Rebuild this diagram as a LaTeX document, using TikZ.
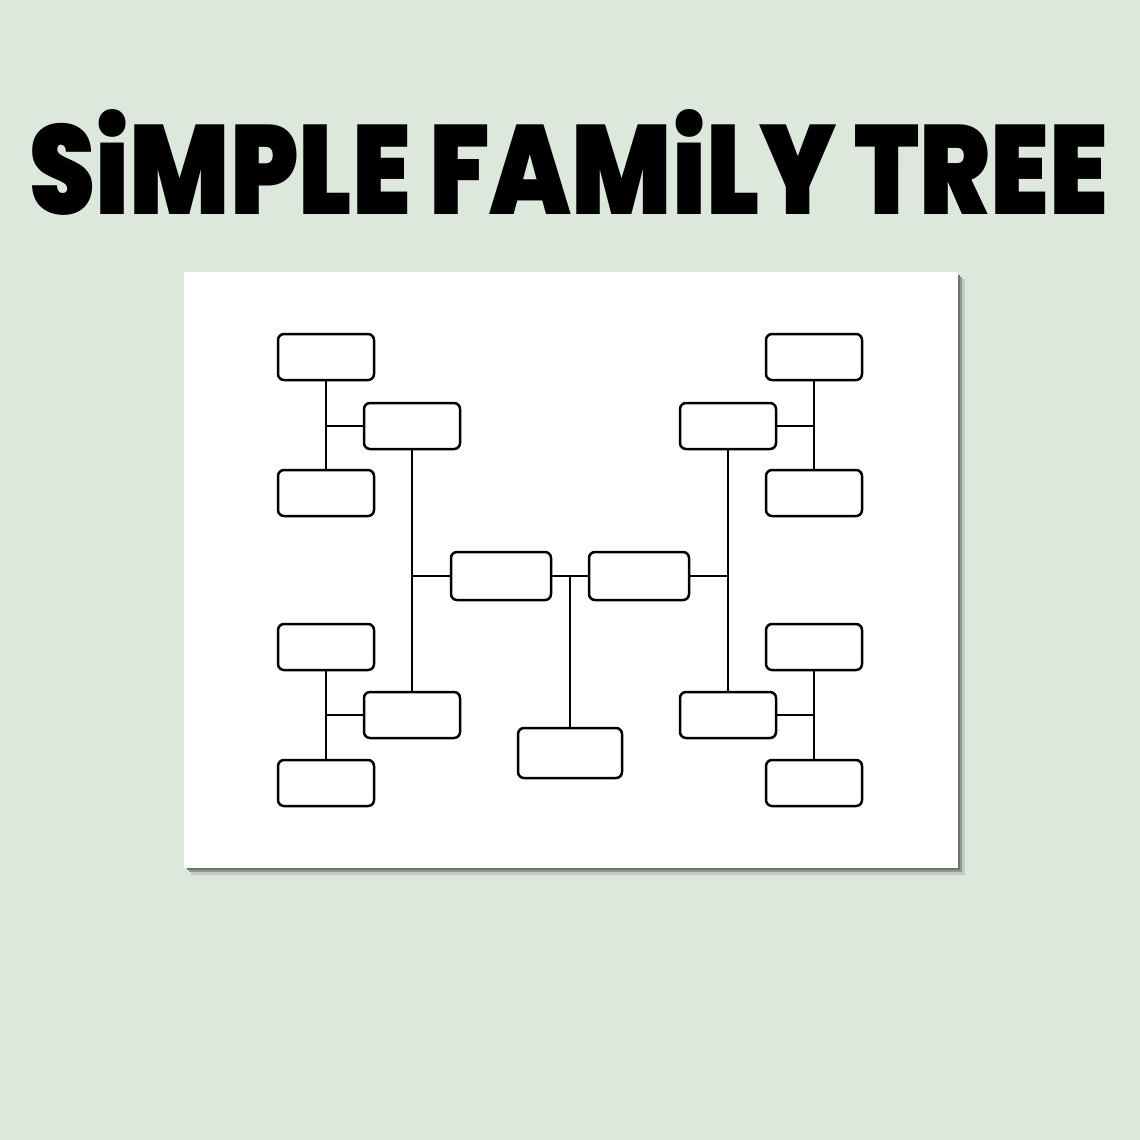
\documentclass[tikz,border=0pt]{standalone}
\usepackage{fontspec}
\newfontfamily\titlefont{Poppins Black}
\definecolor{bgcol}{HTML}{DDE8DC}
\definecolor{shadowcol}{HTML}{6E736E}
\tikzset{
  person/.style={draw=black, line width=2.5pt, rounded corners=6pt, fill=white,
    minimum width=96pt, minimum height=46pt, inner sep=0pt},
  conn/.style={draw=black, line width=2.5pt},
}
\begin{document}
\begin{tikzpicture}[x=1pt,y=-1pt]
\useasboundingbox (0,0) rectangle (1140,1140);
\fill[bgcol] (0,0) rectangle (1140,1140);
% title
\node[inner sep=0pt, anchor=center] (title) at (569,162.5)
  {\resizebox{1078pt}{105pt}{\titlefont SiMPLE FAMiLY TREE}};
% card with shadow
\fill[shadowcol!40] (191,279) rectangle (965,875);
\fill[shadowcol!75] (189,277) rectangle (962,872);
\fill[shadowcol] (187,275) rectangle (960,870);
\fill[white] (184,272) rectangle (958,868);
% far left
\node[person] (l1) at (326,357) {};
\node[person] (l2) at (326,493) {};
\node[person] (l3) at (326,647) {};
\node[person] (l4) at (326,783) {};
% mid left
\node[person] (ml1) at (412,426) {};
\node[person] (ml2) at (412,715) {};
% center
\node[person, minimum width=100pt, minimum height=48pt] (cl) at (501,576) {};
\node[person, minimum width=100pt, minimum height=48pt] (cr) at (639,576) {};
\node[person, minimum width=104pt, minimum height=50pt] (ch) at (570,753) {};
% mid right
\node[person] (mr1) at (728,426) {};
\node[person] (mr2) at (728,715) {};
% far right
\node[person] (r1) at (814,357) {};
\node[person] (r2) at (814,493) {};
\node[person] (r3) at (814,647) {};
\node[person] (r4) at (814,783) {};
% connectors left
\draw[conn] (l1.south) -- (l2.north);
\draw[conn] (ml1.west) -- (ml1.west -| l1.south);
\draw[conn] (l3.south) -- (l4.north);
\draw[conn] (ml2.west) -- (ml2.west -| l3.south);
\draw[conn] (ml1.south) -- (ml2.north);
\draw[conn] (cl.west) -- (cl.west -| ml1.south);
% center
\draw[conn] (cl.east) -- (cr.west);
\draw[conn] (ch.north) -- (ch.north |- cl.east);
% right
\draw[conn] (mr1.south) -- (mr2.north);
\draw[conn] (cr.east) -- (cr.east -| mr1.south);
\draw[conn] (r1.south) -- (r2.north);
\draw[conn] (mr1.east) -- (mr1.east -| r1.south);
\draw[conn] (r3.south) -- (r4.north);
\draw[conn] (mr2.east) -- (mr2.east -| r3.south);
\end{tikzpicture}
\end{document}
